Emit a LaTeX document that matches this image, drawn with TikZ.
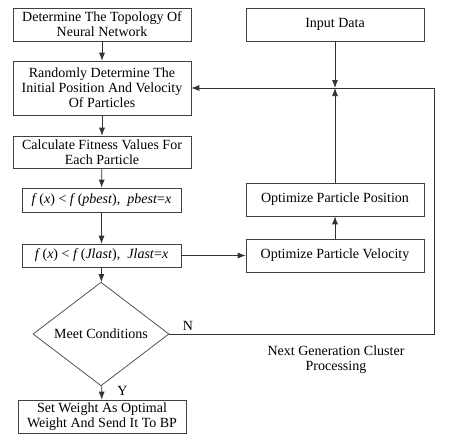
\documentclass[tikz,border=0pt]{standalone}
\usepackage{fontspec}
\setmainfont{Liberation Serif}
\usepackage{tikz}
\usetikzlibrary{arrows.meta,shapes.geometric}

\tikzset{
	box/.style={draw=black!75, line width=0.7pt, rectangle, align=center, inner sep=1pt,
		minimum width=178pt, minimum height=33pt, font=\fontsize{14}{15}\selectfont},
	link/.style={draw=black!80, line width=0.75pt}
}

\begin{document}
\begin{tikzpicture}[>={Latex[length=8pt,width=6pt]}, x=1pt, y=-1pt]
		\useasboundingbox (0,0) rectangle (474,447);
		% Colonna sinistra
		\node[box] (topo) at (102,24.5) {Determine The Topology Of\\Neural Network};
		\node[box, minimum height=54pt] (init) at (102,88) {Randomly Determine The\\Initial Position And Velocity\\Of Particles};
		\node[box, minimum height=32pt] (fit) at (102,152) {Calculate Fitness Values For\\Each Particle};
		\node[box, minimum width=159pt, minimum height=24pt] (pbest) at (101.5,200) {\textit{f}\,(\textit{x}) < \textit{f}\,(\textit{pbest}),\ \ \textit{pbest}=\textit{x}};
		\node[box, minimum width=159pt, minimum height=23pt] (jlast) at (101.5,255.5) {\textit{f}\,(\textit{x}) < \textit{f}\,(\textit{Jlast}),\ \ \textit{Jlast}=\textit{x}};
		\node[box, diamond, minimum width=136pt, minimum height=82pt, inner sep=0pt] (cond) at (101,334) {Meet Conditions};
		\node[box, minimum width=168pt] (bp) at (102,416.5) {Set Weight As Optimal\\Weight And Send It To BP};
		
		% Colonna destra
		\node[box] (input) at (335,24.5) {Input Data};
		\node[box] (pos) at (335,199.5) {Optimize Particle Position};
		\node[box] (vel) at (335,255.5) {Optimize Particle Velocity};
		\node[font=\fontsize{14}{15}\selectfont, align=center] (next) at (336,360) {Next Generation Cluster\\Processing};
		
		% Punti di giunzione
		\coordinate (join) at (335,88);
		\coordinate (corner) at (434,88);
		\coordinate (back) at (434,334);
		
		% Frecce
		\draw[link,->] (topo) -- (init);
		\draw[link,->] (init) -- (fit);
		\draw[link,->] (fit) -- (pbest);
		\draw[link,->] (pbest) -- (jlast);
		\draw[link,->] (jlast) -- (cond);
		\draw[link,->] (cond) -- node[right=12pt, pos=0.4, font=\fontsize{14}{15}\selectfont] {Y} (bp);
		\draw[link,->] (jlast) -- (vel);
		\draw[link,->] (vel) -- (pos);
		\draw[link,->] (pos) -- (join);
		\draw[link,->] (input) -- (join);
		\draw[link,->] (cond.east) -- node[pos=0.07, above, font=\fontsize{14}{15}\selectfont] {N} (back) -- (corner) -- (init.east);
	\end{tikzpicture}
\end{document}
